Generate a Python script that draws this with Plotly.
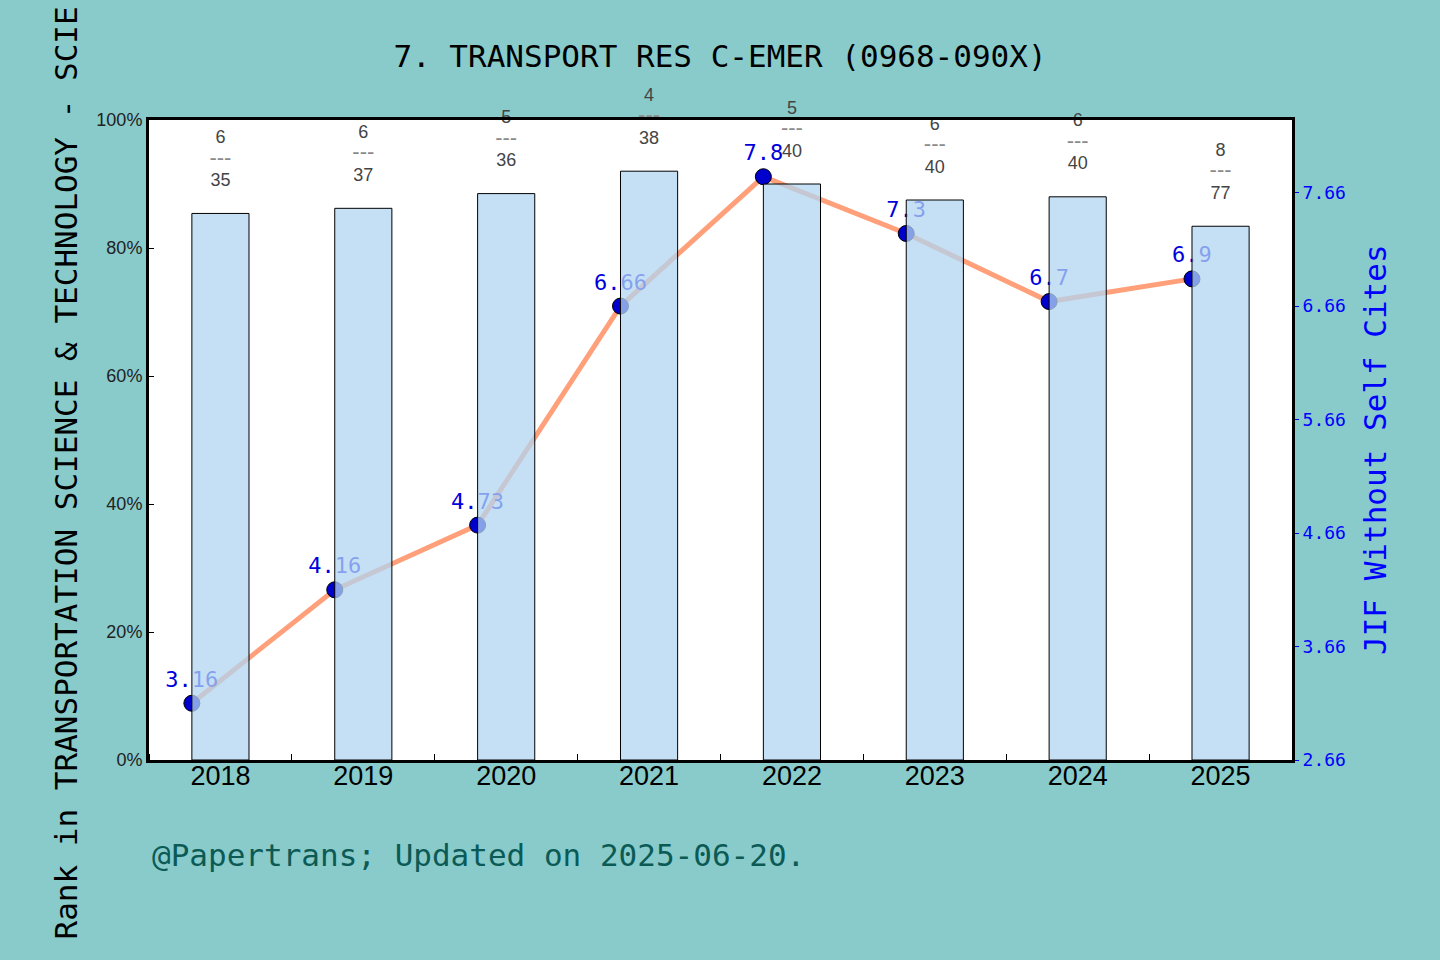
import numpy as np
import plotly.graph_objects as go

years = ["2018", "2019", "2020", "2021", "2022", "2023", "2024", "2025"]
rank_pct = [0.854, 0.862, 0.885, 0.920, 0.900, 0.875, 0.880, 0.834]
rank_num = [6, 6, 5, 4, 5, 6, 6, 8]
rank_total = [35, 37, 36, 38, 40, 40, 40, 77]
jif_wo_self = [3.16, 4.16, 4.73, 6.66, 7.8, 7.3, 6.7, 6.9]
right_ticks = [2.66, 3.66, 4.66, 5.66, 6.66, 7.66]

title_text = "7. TRANSPORT RES C-EMER (0968-090X)"
left_title = "Rank in TRANSPORTATION SCIENCE & TECHNOLOGY - SCIE"
right_title = "JIF Without Self Cites"
footer = "@Papertrans; Updated on 2025-06-20."

MONO = "DejaVu Sans Mono"
BG = "#88cbca"
bar_w = 0.4
pos = np.arange(len(years))

bar_text = [
    f"<span style='font-size:18px'>{r}</span><br>"
    f"<span style='color:#8a8a8a;font-size:22px'>---</span><br>"
    f"<span style='font-size:18px'>{t}</span>"
    "<br><span style='color:rgba(0,0,0,0);font-size:12px'>.</span>"
    for r, t in zip(rank_num, rank_total)
]

fig = go.Figure()

fig.add_trace(go.Scatter(
    x=pos - bar_w / 2, y=jif_wo_self, yaxis="y", xaxis="x",
    mode="lines+markers+text",
    line=dict(color="#ffa07a", width=5),
    marker=dict(size=16, color="#0000cd", line=dict(color="black", width=1)),
    text=[f"{v:g}" for v in jif_wo_self], textposition="top center",
    textfont=dict(family=MONO, size=22, color="#0000dd"),
    cliponaxis=False, showlegend=False,
))

fig.add_trace(go.Bar(
    x=pos, y=rank_pct, yaxis="y2", xaxis="x", width=bar_w,
    marker=dict(color="rgba(178,214,242,0.75)", line=dict(color="black", width=1)),
    text=bar_text, textposition="outside", constraintext="none",
    textfont=dict(family="Liberation Sans", size=16.5, color="#444444"),
    cliponaxis=False, showlegend=False,
))

fig.update_layout(
    width=1440, height=960,
    margin=dict(l=149, r=148, t=120, b=200),
    paper_bgcolor=BG, plot_bgcolor="white",
    title=dict(text=title_text, x=0.5, xanchor="center", y=1 - 56 / 960, yanchor="middle",
               font=dict(family=MONO, size=31, color="black")),
    xaxis=dict(range=[-0.5, len(years) - 0.5], tickvals=pos, ticktext=years,
               ticks="", showgrid=False, zeroline=False, ticklabelstandoff=-10,
               showline=True, mirror=True, linewidth=3, linecolor="black",
               tickfont=dict(family="Liberation Sans", size=27, color="black"),
               minor=dict(tick0=0.5, dtick=1, ticks="inside", ticklen=6,
                          tickcolor="black", tickwidth=1)),
    yaxis=dict(side="right", range=[min(jif_wo_self) - 0.5, max(jif_wo_self) + 0.5],
               tickvals=right_ticks, tickformat=".2f",
               ticks="outside", ticklen=4, tickcolor="blue",
               tickfont=dict(family=MONO, size=18, color="blue"),
               showgrid=False, zeroline=False,
               showline=True, linewidth=3, linecolor="black"),
    yaxis2=dict(overlaying="y", side="left", range=[0, 1], dtick=0.2, tickformat=".0%",
                ticks="inside", ticklen=5, tickcolor="black",
                tickfont=dict(family="Liberation Sans", size=18, color="#222222"),
                showgrid=False, zeroline=False,
                showline=True, linewidth=3, linecolor="black"),
    bargap=0.6,
)

fig.add_annotation(text=left_title, xref="paper", yref="paper",
                   x=(65 - 149) / 1143, y=(760 - 942) / 640,
                   xanchor="center", yanchor="bottom", textangle=-90, showarrow=False,
                   font=dict(family=MONO, size=31, color="black"))
fig.add_annotation(text=right_title, xref="paper", yref="paper",
                   x=(1375 - 149) / 1143, y=(760 - 450) / 640,
                   xanchor="center", yanchor="middle", textangle=-90, showarrow=False,
                   font=dict(family=MONO, size=31, color="blue"))
fig.add_annotation(text=footer, xref="paper", yref="paper",
                   x=(150 - 149) / 1143, y=(760 - 855) / 640,
                   xanchor="left", yanchor="middle", showarrow=False,
                   font=dict(family=MONO, size=31, color="#0b5a55"))

fig.write_html("out.html")
